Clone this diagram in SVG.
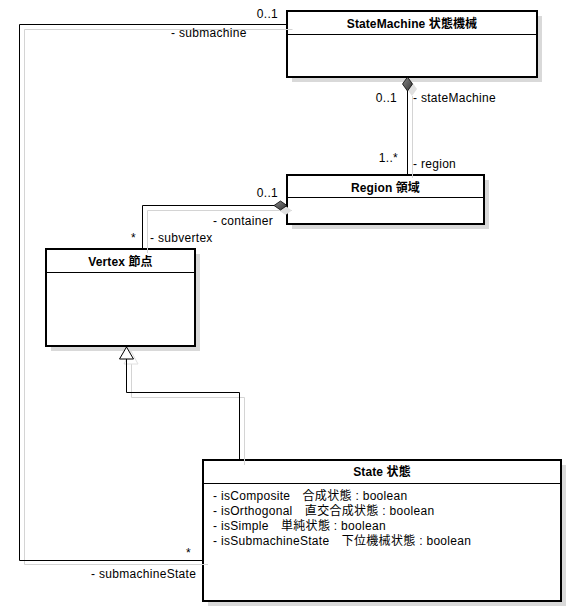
<svg xmlns="http://www.w3.org/2000/svg" width="571" height="614" viewBox="0 0 571 614">
<style>
text{font-family:"Liberation Sans","Noto Sans CJK JP",sans-serif;font-size:12px;fill:#000;letter-spacing:0.3px}
.t{font-weight:bold;text-anchor:middle;letter-spacing:0.1px}
.e{text-anchor:end}
.box{fill:#fff;stroke:#000;stroke-width:2}
.sh{fill:#d9d9d9}
.div{stroke:#000;stroke-width:1}
.ln{fill:none;stroke:#000;stroke-width:1}
.lns{fill:none;stroke:#d4d4d4;stroke-width:1}
</style>
<defs>
<linearGradient id="dg" x1="0" y1="0" x2="1" y2="1">
<stop offset="0" stop-color="#888"/>
<stop offset="1" stop-color="#333"/>
</linearGradient>
</defs>
<rect width="571" height="614" fill="#fff"/>

<g id="StateMachine">
<rect class="sh" x="292" y="16" width="250" height="66"/>
<rect class="box" x="287" y="11" width="250" height="66"/>
<line class="div" x1="287" y1="34.5" x2="537" y2="34.5"/>
<text class="t" x="412" y="28">StateMachine 状態機械</text>
</g>

<g id="Region">
<rect class="sh" x="292" y="180" width="197" height="49"/>
<rect class="box" x="287" y="175" width="197" height="49"/>
<line class="div" x1="287" y1="197.5" x2="484" y2="197.5"/>
<text class="t" x="385.5" y="192">Region 領域</text>
</g>

<g id="Vertex">
<rect class="sh" x="51" y="254" width="149" height="97"/>
<rect class="box" x="46" y="249" width="149" height="97"/>
<line class="div" x1="46" y1="272.5" x2="195" y2="272.5"/>
<text class="t" x="120.5" y="266">Vertex 節点</text>
</g>

<g id="State">
<rect class="sh" x="208" y="465" width="358" height="141"/>
<rect class="box" x="203" y="460" width="358" height="141"/>
<line class="div" x1="203" y1="483.5" x2="561" y2="483.5"/>
<text class="t" x="382" y="476">State 状態</text>
<text x="213" y="500">- isComposite　合成状態 : boolean</text>
<text x="213" y="515">- isOrthogonal　直交合成状態 : boolean</text>
<text x="213" y="530">- isSimple　単純状態 : boolean</text>
<text x="213" y="545">- isSubmachineState　下位機械状態 : boolean</text>
</g>

<g id="connectors">
<!-- shadows -->
<polyline class="lns" points="292.5,29.5 24.5,29.5 24.5,564.5 208,564.5"/>
<line class="lns" x1="412.5" y1="96" x2="412.5" y2="178"/>
<polygon points="412,82 417,89 412,96 407,89" fill="#e0e0e0"/>
<polyline class="lns" points="292,210.5 147.5,210.5 147.5,253"/>
<polygon points="292,210.5 285.5,215 279,210.5 285.5,206" fill="#e0e0e0"/>
<polyline class="lns" points="131.5,364 131.5,397.5 244.5,397.5 244.5,465"/>
<polygon points="131,351 138,364 124,364" fill="none" stroke="#e0e0e0"/>

<!-- submachine / submachineState -->
<polyline class="ln" points="287,24.5 19.5,24.5 19.5,560.5 203,560.5"/>
<!-- stateMachine / region -->
<line class="ln" x1="407.5" y1="91" x2="407.5" y2="175"/>
<polygon points="407.5,77 412.5,84 407.5,91 402.5,84" fill="url(#dg)" stroke="#000" stroke-width="0.8"/>
<!-- container / subvertex -->
<polyline class="ln" points="274,205.5 142.5,205.5 142.5,249"/>
<polygon points="287,205.5 280.5,210 274,205.5 280.5,201" fill="url(#dg)" stroke="#000" stroke-width="0.8"/>
<!-- generalization -->
<polyline class="ln" points="126.5,359 126.5,392.5 239.5,392.5 239.5,460"/>
<polygon points="126.5,347 133.5,359 119.5,359" fill="#fff" stroke="#000" stroke-width="1"/>

<!-- labels -->
<text class="e" x="278" y="18">0..1</text>
<text x="171" y="37">- submachine</text>
<text class="e" x="397" y="102">0..1</text>
<text x="413" y="102">- stateMachine</text>
<text class="e" x="398" y="162">1..*</text>
<text x="413" y="168">- region</text>
<text class="e" x="278" y="197">0..1</text>
<text x="213" y="225">- container</text>
<text class="e" x="136" y="242">*</text>
<text x="150" y="242">- subvertex</text>
<text class="e" x="191" y="557">*</text>
<text x="91" y="578">- submachineState</text>
</g>
</svg>
